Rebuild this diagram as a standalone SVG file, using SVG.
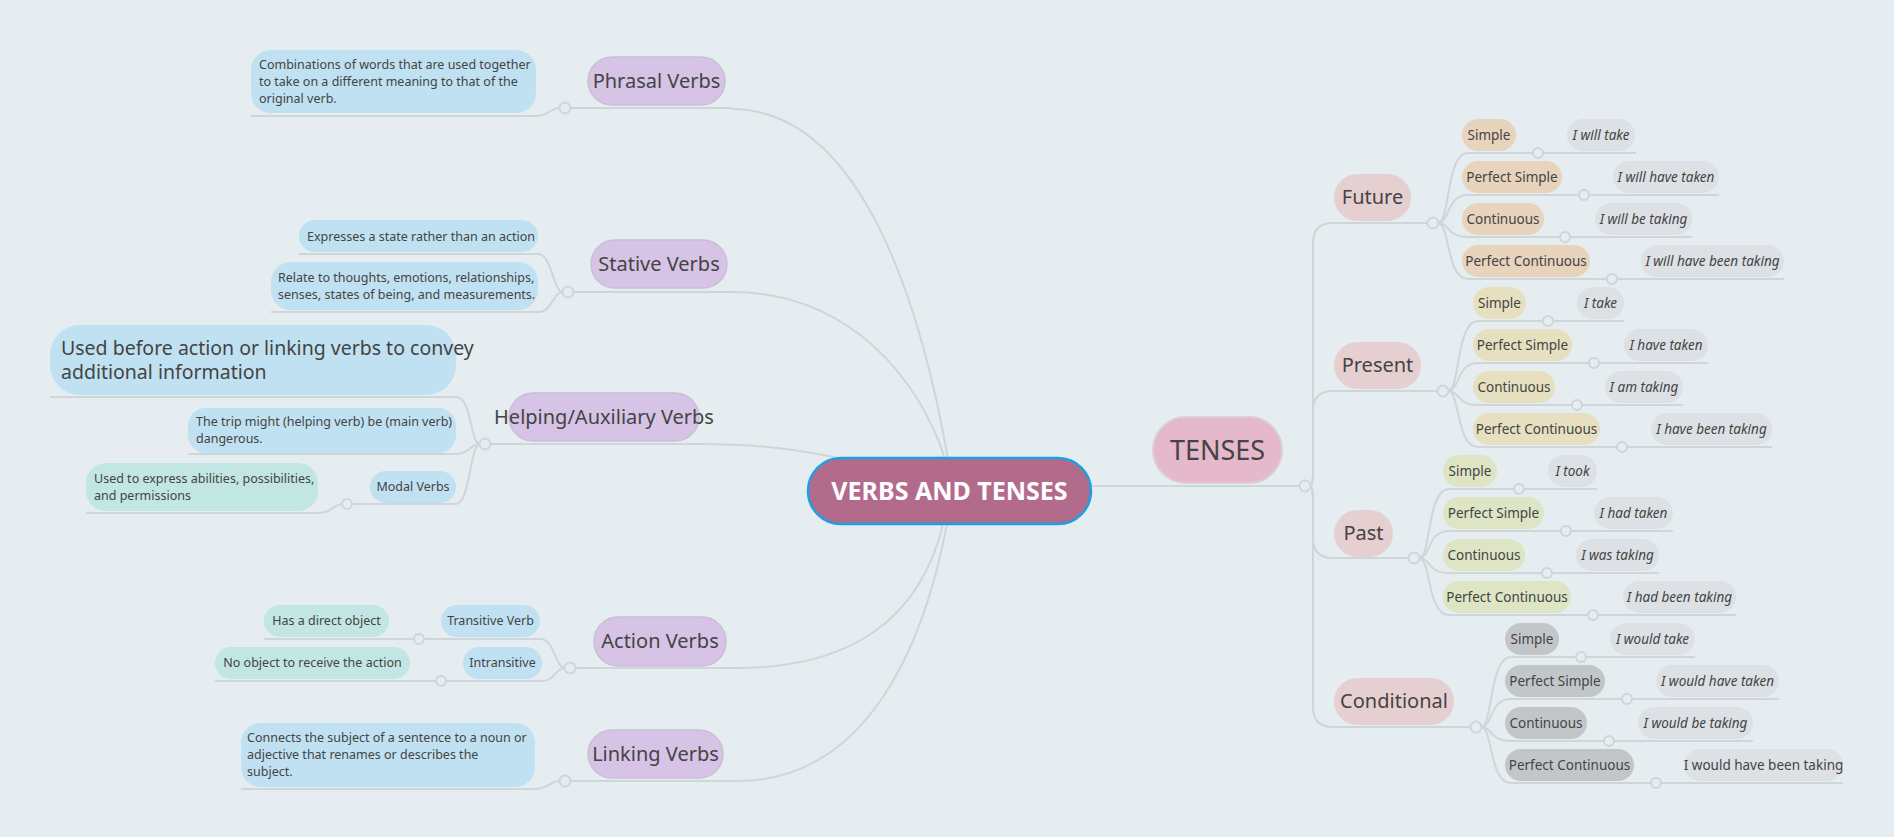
<svg xmlns="http://www.w3.org/2000/svg" width="1894" height="837" viewBox="0 0 1894 837">
<style>
text{font-family:"Noto Sans","Liberation Sans",sans-serif;fill:#444}
.ln{fill:none;stroke:#cfd6d9;stroke-width:2}
.dot{fill:#e5edf0;stroke:#cfd6d9;stroke-width:2}
.main{fill:#d6c3e6;stroke:#c9c0d4;stroke-width:1.5}
.desc{fill:#c0e1f1}
.teal{fill:#c2e6e3}
.tn{fill:#e6cfd0}
.fu{fill:#e8d3bd}.pr{fill:#e6e0c0}.pa{fill:#dde5c5}.co{fill:#c3c6c9}
.lf{fill:#dde1e5}
.t20{font-size:20px}.t14{font-size:13.5px}.t13{font-size:12.5px}
.it{font-style:italic}
</style>
<rect width="1894" height="837" fill="#e5edf0"/>
<g id="connectors">
<path class="ln" d="M731,109 C860,109 920,300 948,459"/>
<path class="ln" d="M731,292 C850,292 920,380 945,459"/>
<path class="ln" d="M700,444 C760,444 800,450 838,458"/>
<path class="ln" d="M737,668 C850,668 920,620 943,524"/>
<path class="ln" d="M737,781 C870,781 925,640 947,524"/>
<path class="ln" d="M1091,486 H1300"/>
<path class="ln" d="M1310,486 Q1313,486 1313,470 V243 Q1313,223 1333,223 H1428"/>
<path class="ln" d="M1310,486 Q1313,486 1313,470 V411 Q1313,391 1333,391 H1438"/>
<path class="ln" d="M1310,486 Q1313,486 1313,500 V538 Q1313,558 1333,558 H1409"/>
<path class="ln" d="M1310,486 Q1313,486 1313,500 V707 Q1313,727 1333,727 H1471"/>
<!-- future -->
<path class="ln" d="M1438,223 C1450,223 1446,153 1468,153 H1533 M1543,153 H1636"/>
<path class="ln" d="M1438,223 C1450,223 1446,195 1468,195 H1579 M1589,195 H1719"/>
<path class="ln" d="M1438,223 C1450,223 1446,237 1468,237 H1560 M1570,237 H1692"/>
<path class="ln" d="M1438,223 C1450,223 1446,279 1468,279 H1607 M1617,279 H1784"/>
<!-- present -->
<path class="ln" d="M1448,391 C1460,391 1456,321 1478,321 H1543 M1553,321 H1624"/>
<path class="ln" d="M1448,391 C1460,391 1456,363 1478,363 H1589 M1599,363 H1708"/>
<path class="ln" d="M1448,391 C1460,391 1456,405 1478,405 H1572 M1582,405 H1683"/>
<path class="ln" d="M1448,391 C1460,391 1456,447 1478,447 H1617 M1627,447 H1772"/>
<!-- past -->
<path class="ln" d="M1419,558 C1431,558 1427,489 1449,489 H1514 M1524,489 H1597"/>
<path class="ln" d="M1419,558 C1431,558 1427,531 1449,531 H1561 M1571,531 H1673"/>
<path class="ln" d="M1419,558 C1431,558 1427,573 1449,573 H1542 M1552,573 H1659"/>
<path class="ln" d="M1419,558 C1431,558 1427,615 1449,615 H1588 M1598,615 H1736"/>
<!-- conditional -->
<path class="ln" d="M1481,727 C1493,727 1489,657 1511,657 H1576 M1586,657 H1695"/>
<path class="ln" d="M1481,727 C1493,727 1489,699 1511,699 H1622 M1632,699 H1779"/>
<path class="ln" d="M1481,727 C1493,727 1489,741 1511,741 H1604 M1614,741 H1753"/>
<path class="ln" d="M1481,727 C1493,727 1489,783 1511,783 H1651 M1661,783 H1843"/>
<!-- left side -->
<path class="ln" d="M570,108 H731 M560,108 C550,108 548,116 536,116 H251"/>
<path class="ln" d="M573,292 H731 M563,292 C553,292 552,254 538,254 H299 M563,292 C553,292 552,312 538,312 H271"/>
<path class="ln" d="M490,444 H700 M480,444 C470,444 472,397 456,397 H50 M480,444 C470,444 470,454 456,454 H188 M480,444 C470,444 470,504 456,504 H352 M342,504 C334,504 332,513 318,513 H86"/>
<path class="ln" d="M575,668 H737 M565,668 C555,668 555,639 540,639 H424 M414,639 H264 M565,668 C555,668 555,681 542,681 H446 M436,681 H215"/>
<path class="ln" d="M570,781 H737 M560,781 C550,781 548,789 535,789 H241"/>
</g>
<g id="dots">
<circle class="dot" cx="1305" cy="486" r="5.5"/>
<circle class="dot" cx="1433" cy="223" r="5.5"/><circle class="dot" cx="1443" cy="391" r="5.5"/><circle class="dot" cx="1414" cy="558" r="5.5"/><circle class="dot" cx="1476" cy="727" r="5.5"/>
<circle class="dot" cx="1538" cy="153" r="5"/><circle class="dot" cx="1584" cy="195" r="5"/><circle class="dot" cx="1565" cy="237" r="5"/><circle class="dot" cx="1612" cy="279" r="5"/>
<circle class="dot" cx="1548" cy="321" r="5"/><circle class="dot" cx="1594" cy="363" r="5"/><circle class="dot" cx="1577" cy="405" r="5"/><circle class="dot" cx="1622" cy="447" r="5"/>
<circle class="dot" cx="1519" cy="489" r="5"/><circle class="dot" cx="1566" cy="531" r="5"/><circle class="dot" cx="1547" cy="573" r="5"/><circle class="dot" cx="1593" cy="615" r="5"/>
<circle class="dot" cx="1581" cy="657" r="5"/><circle class="dot" cx="1627" cy="699" r="5"/><circle class="dot" cx="1609" cy="741" r="5"/><circle class="dot" cx="1656" cy="783" r="5"/>
<circle class="dot" cx="565" cy="108" r="5.5"/><circle class="dot" cx="568" cy="292" r="5.5"/><circle class="dot" cx="485" cy="444" r="5.5"/><circle class="dot" cx="347" cy="504" r="5"/>
<circle class="dot" cx="570" cy="668" r="5.5"/><circle class="dot" cx="419" cy="639" r="5"/><circle class="dot" cx="441" cy="681" r="5"/><circle class="dot" cx="565" cy="781" r="5.5"/>
</g>
<g id="central"><rect x="808" y="458" width="283" height="66" rx="33" fill="#b36b8c" stroke="#1ba1e2" stroke-width="2.5"/><text x="949.5" y="500" text-anchor="middle" font-size="25" font-weight="bold" style="fill:#fff">VERBS AND TENSES</text></g>
<g id="tenses"><rect x="1153" y="417" width="129" height="66" rx="33" fill="#e6b8cc" stroke="#d9cfd6" stroke-width="2"/><text x="1217.5" y="460" text-anchor="middle" font-size="27">TENSES</text></g>
<g id="future"><rect class="tn" x="1334" y="174" width="77" height="47" rx="23.5"/><text class="t20" x="1372.5" y="204" text-anchor="middle">Future</text></g>
<g id="present"><rect class="tn" x="1334" y="342" width="87" height="47" rx="23.5"/><text class="t20" x="1377.5" y="372" text-anchor="middle">Present</text></g>
<g id="past"><rect class="tn" x="1334" y="510" width="59" height="47" rx="23.5"/><text class="t20" x="1363.5" y="540" text-anchor="middle">Past</text></g>
<g id="conditional"><rect class="tn" x="1334" y="678" width="120" height="47" rx="23.5"/><text class="t20" x="1394" y="708" text-anchor="middle">Conditional</text></g>
<g id="future-rows" class="t14">
<g id="f1"><rect class="fu" x="1462" y="119" width="54" height="32" rx="16"/><text x="1489" y="140" text-anchor="middle">Simple</text></g>
<g id="f1l"><rect class="lf" x="1567" y="119" width="68" height="32" rx="16"/><text class="it" x="1601" y="140" text-anchor="middle">I will take</text></g>
<g id="f2"><rect class="fu" x="1462" y="161" width="100" height="32" rx="16"/><text x="1512" y="182" text-anchor="middle">Perfect Simple</text></g>
<g id="f2l"><rect class="lf" x="1613" y="161" width="106" height="32" rx="16"/><text class="it" x="1666" y="182" text-anchor="middle">I will have taken</text></g>
<g id="f3"><rect class="fu" x="1462" y="203" width="82" height="32" rx="16"/><text x="1503" y="224" text-anchor="middle">Continuous</text></g>
<g id="f3l"><rect class="lf" x="1595" y="203" width="97" height="32" rx="16"/><text class="it" x="1643.5" y="224" text-anchor="middle">I will be taking</text></g>
<g id="f4"><rect class="fu" x="1462" y="245" width="128" height="32" rx="16"/><text x="1526" y="266" text-anchor="middle">Perfect Continuous</text></g>
<g id="f4l"><rect class="lf" x="1641" y="245" width="143" height="32" rx="16"/><text class="it" x="1712.5" y="266" text-anchor="middle">I will have been taking</text></g>
</g>
<g id="present-rows" class="t14">
<g id="p1"><rect class="pr" x="1473" y="287" width="53" height="32" rx="16"/><text x="1499.5" y="308" text-anchor="middle">Simple</text></g>
<g id="p1l"><rect class="lf" x="1577" y="287" width="47" height="32" rx="16"/><text class="it" x="1600.5" y="308" text-anchor="middle">I take</text></g>
<g id="p2"><rect class="pr" x="1473" y="329" width="99" height="32" rx="16"/><text x="1522.5" y="350" text-anchor="middle">Perfect Simple</text></g>
<g id="p2l"><rect class="lf" x="1624" y="329" width="84" height="32" rx="16"/><text class="it" x="1666" y="350" text-anchor="middle">I have taken</text></g>
<g id="p3"><rect class="pr" x="1473" y="371" width="82" height="32" rx="16"/><text x="1514" y="392" text-anchor="middle">Continuous</text></g>
<g id="p3l"><rect class="lf" x="1605" y="371" width="78" height="32" rx="16"/><text class="it" x="1644" y="392" text-anchor="middle">I am taking</text></g>
<g id="p4"><rect class="pr" x="1473" y="413" width="127" height="32" rx="16"/><text x="1536.5" y="434" text-anchor="middle">Perfect Continuous</text></g>
<g id="p4l"><rect class="lf" x="1651" y="413" width="121" height="32" rx="16"/><text class="it" x="1711.5" y="434" text-anchor="middle">I have been taking</text></g>
</g>
<g id="past-rows" class="t14">
<g id="a1"><rect class="pa" x="1443" y="455" width="54" height="32" rx="16"/><text x="1470" y="476" text-anchor="middle">Simple</text></g>
<g id="a1l"><rect class="lf" x="1548" y="455" width="49" height="32" rx="16"/><text class="it" x="1572.5" y="476" text-anchor="middle">I took</text></g>
<g id="a2"><rect class="pa" x="1443" y="497" width="101" height="32" rx="16"/><text x="1493.5" y="518" text-anchor="middle">Perfect Simple</text></g>
<g id="a2l"><rect class="lf" x="1594" y="497" width="79" height="32" rx="16"/><text class="it" x="1633.5" y="518" text-anchor="middle">I had taken</text></g>
<g id="a3"><rect class="pa" x="1443" y="539" width="82" height="32" rx="16"/><text x="1484" y="560" text-anchor="middle">Continuous</text></g>
<g id="a3l"><rect class="lf" x="1576" y="539" width="83" height="32" rx="16"/><text class="it" x="1617.5" y="560" text-anchor="middle">I was taking</text></g>
<g id="a4"><rect class="pa" x="1443" y="581" width="128" height="32" rx="16"/><text x="1507" y="602" text-anchor="middle">Perfect Continuous</text></g>
<g id="a4l"><rect class="lf" x="1623" y="581" width="113" height="32" rx="16"/><text class="it" x="1679.5" y="602" text-anchor="middle">I had been taking</text></g>
</g>
<g id="conditional-rows" class="t14">
<g id="c1"><rect class="co" x="1505" y="623" width="54" height="32" rx="16"/><text x="1532" y="644" text-anchor="middle">Simple</text></g>
<g id="c1l"><rect class="lf" x="1610" y="623" width="85" height="32" rx="16"/><text class="it" x="1652.5" y="644" text-anchor="middle">I would take</text></g>
<g id="c2"><rect class="co" x="1505" y="665" width="100" height="32" rx="16"/><text x="1555" y="686" text-anchor="middle">Perfect Simple</text></g>
<g id="c2l"><rect class="lf" x="1656" y="665" width="123" height="32" rx="16"/><text class="it" x="1717.5" y="686" text-anchor="middle">I would have taken</text></g>
<g id="c3"><rect class="co" x="1505" y="707" width="82" height="32" rx="16"/><text x="1546" y="728" text-anchor="middle">Continuous</text></g>
<g id="c3l"><rect class="lf" x="1638" y="707" width="115" height="32" rx="16"/><text class="it" x="1695.5" y="728" text-anchor="middle">I would be taking</text></g>
<g id="c4"><rect class="co" x="1505" y="749" width="129" height="32" rx="16"/><text x="1569.5" y="770" text-anchor="middle">Perfect Continuous</text></g>
<g id="c4l"><rect class="lf" x="1684" y="749" width="159" height="32" rx="16"/><text x="1763.5" y="770" text-anchor="middle">I would have been taking</text></g>
</g>
<g id="phrasal"><rect class="main" x="588" y="57" width="137" height="48" rx="24"/><text class="t20" x="656.5" y="88" text-anchor="middle">Phrasal Verbs</text></g>
<g id="phrasal-desc" class="t13"><rect class="desc" x="251" y="50" width="285" height="63" rx="20"/><text x="259" y="69">Combinations of words that are used together</text><text x="259" y="86">to take on a different meaning to that of the</text><text x="259" y="103">original verb.</text></g>
<g id="stative"><rect class="main" x="591" y="240" width="136" height="48" rx="24"/><text class="t20" x="659" y="271" text-anchor="middle">Stative Verbs</text></g>
<g id="stative-d1" class="t13"><rect class="desc" x="299" y="220" width="239" height="32" rx="16"/><text x="307" y="241">Expresses a state rather than an action</text></g>
<g id="stative-d2" class="t13"><rect class="desc" x="271" y="262" width="267" height="48" rx="20"/><text x="278" y="282">Relate to thoughts, emotions, relationships,</text><text x="278" y="299">senses, states of being, and measurements.</text></g>
<g id="helping"><rect class="main" x="509" y="393" width="190" height="48" rx="24"/><text class="t20" x="604" y="424" text-anchor="middle">Helping/Auxiliary Verbs</text></g>
<g id="helping-d1"><rect class="desc" x="50" y="325" width="406" height="70" rx="30"/><text x="61" y="355" font-size="19.5">Used before action or linking verbs to convey</text><text x="61" y="379" font-size="19.5">additional information</text></g>
<g id="helping-d2" class="t13"><rect class="desc" x="188" y="408" width="268" height="45" rx="18"/><text x="196" y="426">The trip might (helping verb) be (main verb)</text><text x="196" y="443">dangerous.</text></g>
<g id="modal" class="t13"><rect class="desc" x="370" y="471" width="86" height="32" rx="16"/><text x="413" y="491" text-anchor="middle">Modal Verbs</text></g>
<g id="modal-d" class="t13"><rect class="teal" x="86" y="463" width="232" height="48" rx="20"/><text x="94" y="483">Used to express abilities, possibilities,</text><text x="94" y="500">and permissions</text></g>
<g id="action"><rect class="main" x="594" y="617" width="132" height="49" rx="24"/><text class="t20" x="660" y="648" text-anchor="middle">Action Verbs</text></g>
<g id="transitive" class="t13"><rect class="desc" x="441" y="605" width="99" height="32" rx="16"/><text x="490.5" y="625" text-anchor="middle">Transitive Verb</text></g>
<g id="transitive-d" class="t13"><rect class="teal" x="264" y="605" width="125" height="32" rx="16"/><text x="326.5" y="625" text-anchor="middle">Has a direct object</text></g>
<g id="intransitive" class="t13"><rect class="desc" x="463" y="647" width="79" height="32" rx="16"/><text x="502.5" y="667" text-anchor="middle">Intransitive</text></g>
<g id="intransitive-d" class="t13"><rect class="teal" x="215" y="647" width="195" height="32" rx="16"/><text x="312.5" y="667" text-anchor="middle">No object to receive the action</text></g>
<g id="linking"><rect class="main" x="588" y="730" width="135" height="48" rx="24"/><text class="t20" x="655.5" y="761" text-anchor="middle">Linking Verbs</text></g>
<g id="linking-d" class="t13"><rect class="desc" x="241" y="723" width="294" height="64" rx="20"/><text x="247" y="742">Connects the subject of a sentence to a noun or</text><text x="247" y="759">adjective that renames or describes the</text><text x="247" y="776">subject.</text></g>
</svg>
